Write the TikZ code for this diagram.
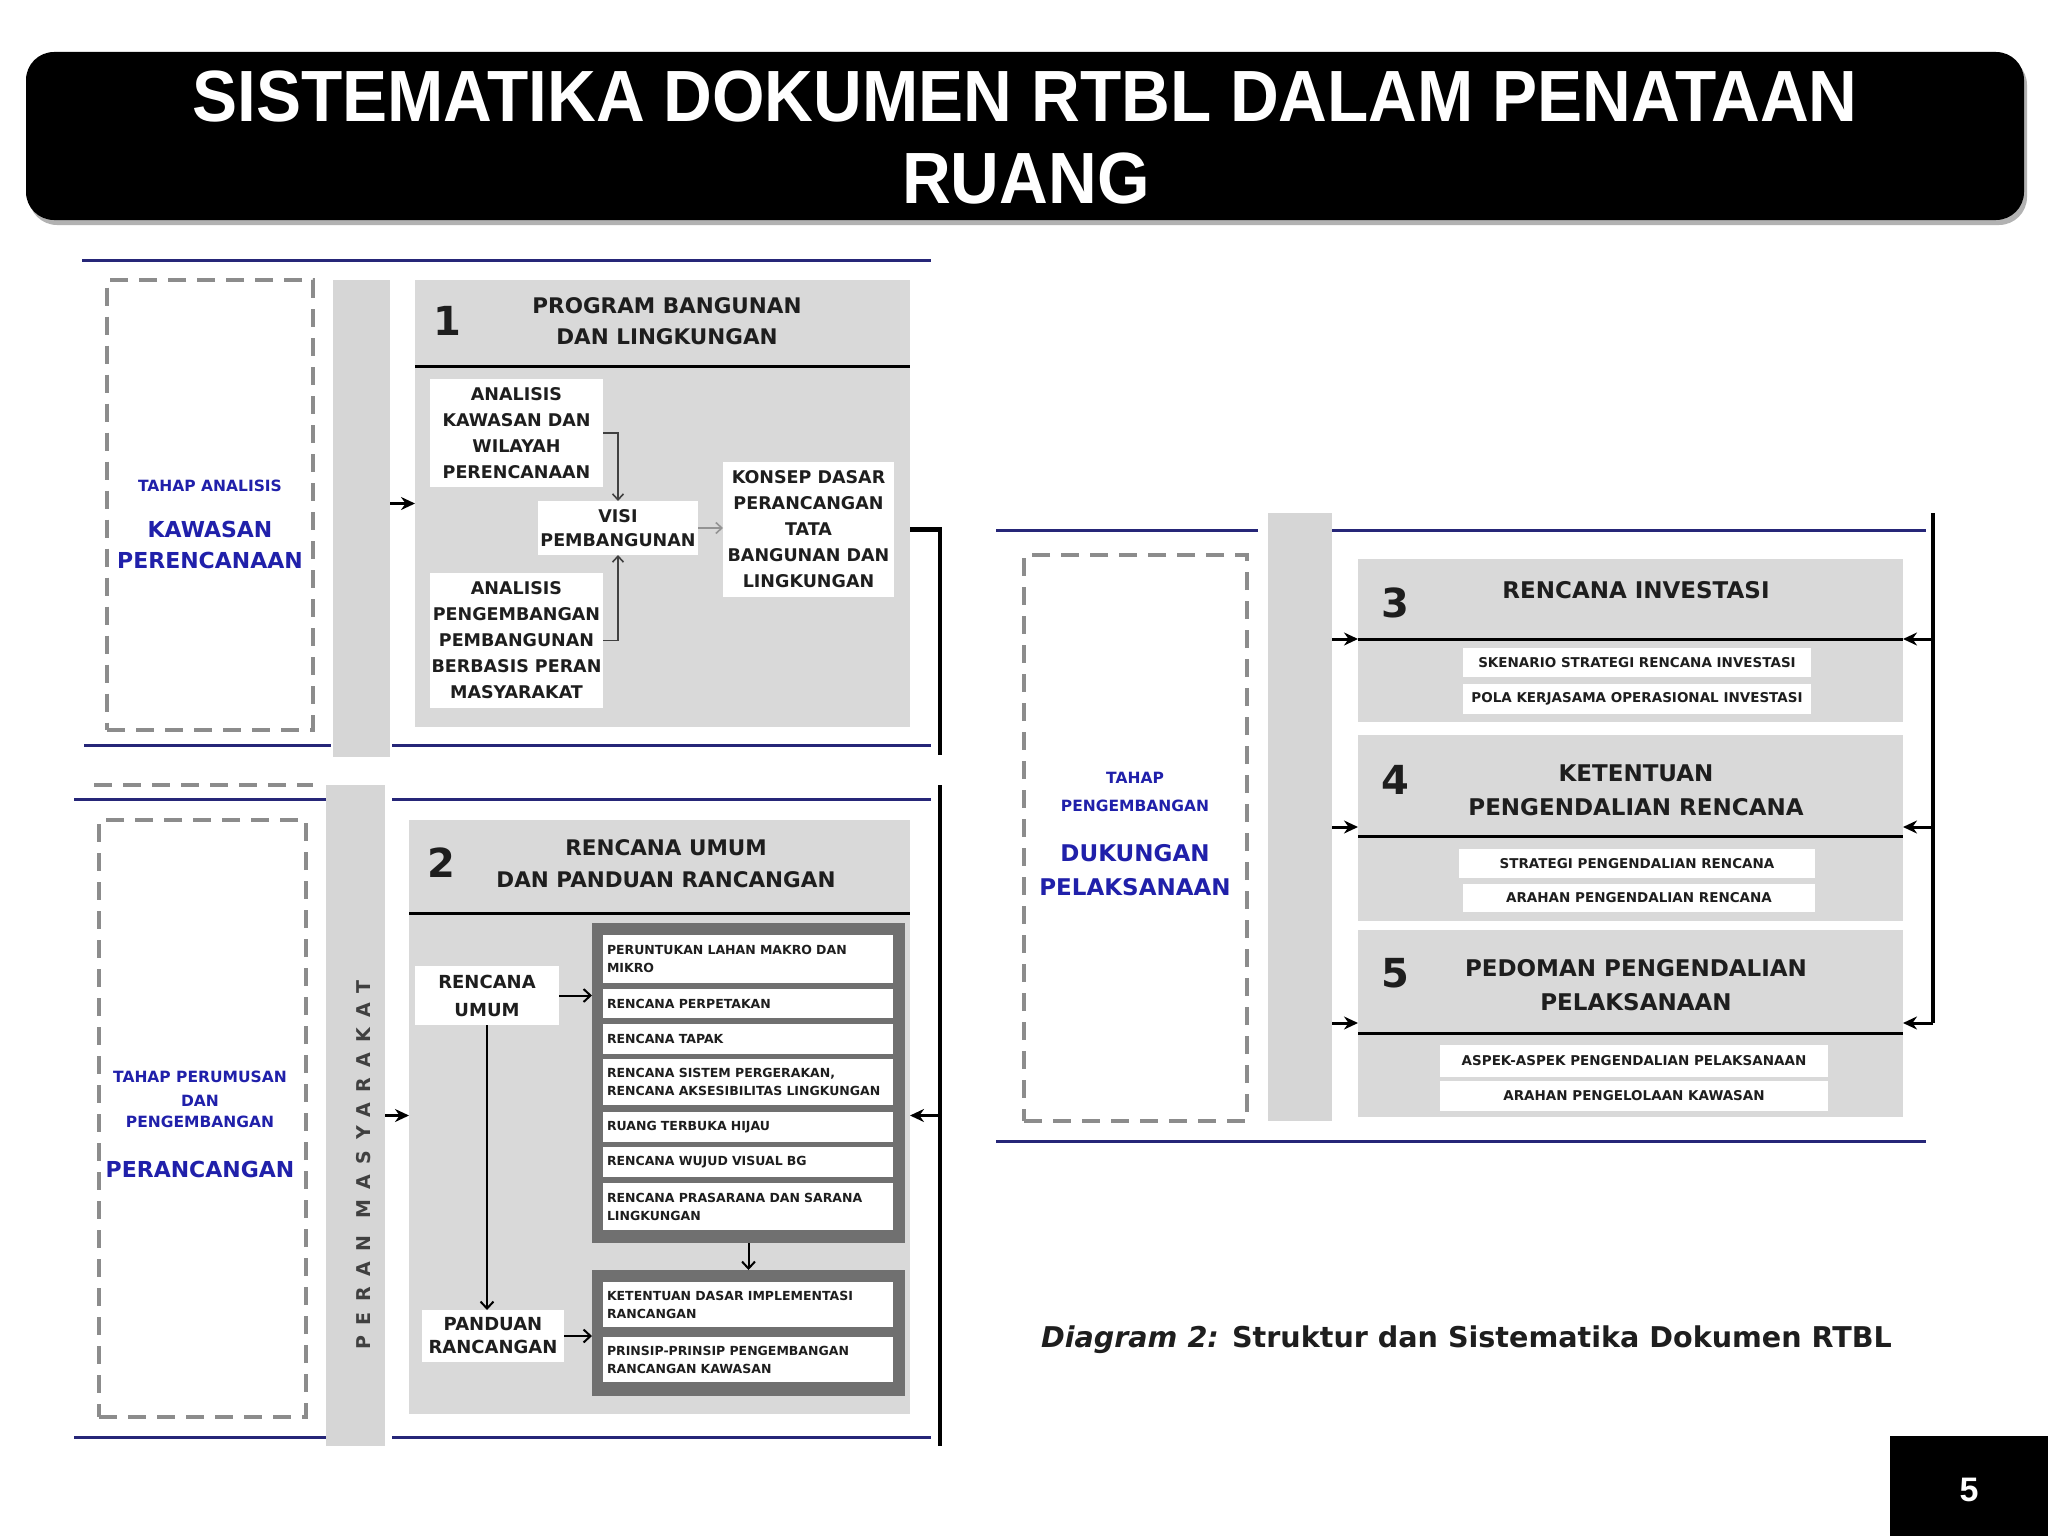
\documentclass[tikz,border=0pt]{standalone}
\usepackage{fontspec}
\setmainfont{DejaVu Sans}
\newfontfamily\djs{DejaVu Sans}
\newfontfamily\libs{Liberation Sans}
\newfontfamily\spcfont{DejaVu Sans}[LetterSpace=55]
\usetikzlibrary{arrows.meta}
\newcommand\fsz[2]{\fontsize{#1}{#2}\selectfont}
\definecolor{boxgray}{RGB}{217,217,217}
\definecolor{bargray}{RGB}{214,214,214}
\definecolor{framegray}{RGB}{112,112,112}
\definecolor{navyline}{RGB}{38,38,120}
\definecolor{bluetxt}{RGB}{32,32,170}
\definecolor{dashgray}{RGB}{140,140,140}
\definecolor{txt}{RGB}{30,30,30}
\tikzset{
  sz/.style 2 args={minimum width=#1, minimum height=#2},
  bluel/.style={draw=navyline, line width=3pt},
  dashbox/.style={draw=dashgray, line width=4pt, dash pattern=on 18pt off 11pt},
  barfill/.style={fill=bargray},
  panelbox/.style={fill=boxgray},
  wtext/.style={fill=white, text=txt, align=center, font=\djs\bfseries\fsz{17.5}{26}},
  hdr/.style={text=txt, align=center, font=\djs\bfseries\fsz{21.5}{31}},
  rhdr/.style={text=txt, align=center, font=\djs\bfseries\fsz{23}{34}},
  num/.style={text=txt, font=\djs\bfseries\fsz{40}{40}},
  item/.style={fill=white, text=txt, align=left, inner xsep=4pt, text width=282pt, font=\djs\bfseries\fsz{12.5}{18}},
  ritem/.style={fill=white, text=txt, align=center, font=\djs\bfseries\fsz{13.5}{18}},
  framebox/.style={fill=framegray},
  bsmall/.style={text=bluetxt, font=\djs\bfseries\fsz{15.5}{20}},
  bbig/.style={text=bluetxt, font=\djs\bfseries\fsz{22}{30}},
  heavy/.style={draw=black, line width=4.5pt},
  hline/.style={draw=black, line width=3pt},
  harrow/.style={draw=black, line width=3pt, -{Stealth[length=14pt,width=13pt]}},
  tarrow/.style={draw=txt!85, line width=1.6pt, -{Straight Barb[length=6pt,width=11pt]}},
  marrow/.style={draw=black, line width=2pt, -{Straight Barb[length=7pt,width=13pt]}},
}
\begin{document}
\begin{tikzpicture}[x=1pt,y=-1pt, every node/.style={inner sep=0pt, outer sep=0pt}]
\useasboundingbox (0,0) rectangle (2048,1536);
\fill[white] (0,0) rectangle (2048,1536);

% ---------- title ----------
\node[fill=black!30, rounded corners=28pt, sz={1998pt}{168pt}] (tshadow) at (1028,141) {};
\node[fill=black, rounded corners=28pt, sz={1998pt}{168pt}] (tbar) at (1025,136) {};
\node[anchor=base, text=white, font=\libs\bfseries\fsz{72.6}{80}] (tl1) at (1025,122) {\scalebox{0.93}[1]{SISTEMATIKA DOKUMEN RTBL DALAM PENATAAN}};
\node[anchor=base, text=white, font=\libs\bfseries\fsz{72.6}{80}] (tl2) at (1026,203) {\scalebox{0.93}[1]{RUANG}};

% ---------- panel 1 ----------
\draw[bluel] (82,260) -- (931,260);
\draw[bluel] (84,745) -- (331,745);
\draw[bluel] (392,745) -- (931,745);
\node[dashbox, sz={206pt}{450pt}] (d1) at (210,504.5) {};
\node[barfill, sz={57pt}{477pt}] (bar1) at (361.5,518.5) {};
\node[panelbox, sz={495pt}{447pt}] (box1) at (662.5,503.5) {};
\draw[hline] (box1.west |- 0,366) -- (box1.east |- 0,366);
\node[num] (n1) at (447,321) {1};
\node[hdr] (h1) at (667,321.5) {PROGRAM BANGUNAN\\DAN LINGKUNGAN};
\node[wtext, sz={173pt}{108pt}] (a1) at (516.5,433) {ANALISIS\\KAWASAN DAN\\WILAYAH\\PERENCANAAN};
\node[wtext, sz={160pt}{54pt}, font=\djs\bfseries\fsz{17.5}{24}] (visi) at (618,528) {VISI\\PEMBANGUNAN};
\node[wtext, sz={173pt}{135pt}] (a2) at (516.5,640.5) {ANALISIS\\PENGEMBANGAN\\PEMBANGUNAN\\BERBASIS PERAN\\MASYARAKAT};
\node[wtext, sz={171pt}{135pt}] (konsep) at (808.5,529.5) {KONSEP DASAR\\PERANCANGAN\\TATA\\BANGUNAN DAN\\LINGKUNGAN};
\draw[tarrow] (a1.east) -| (visi.north);
\draw[tarrow] (a2.east) -| (visi.south);
\draw[tarrow, draw=gray!85] (visi.east) -- (visi.east -| konsep.west);
\draw[harrow] ([yshift=15pt]bar1.east) -- ([yshift=15pt]bar1.east -| box1.west);
\node[bsmall] (t1a) at (210,486) {TAHAP ANALISIS};
\node[bbig] (t1b) at (210,529) {KAWASAN};
\node[bbig] (t1c) at (210,560) {PERENCANAAN};
\coordinate (br1) at (940,755);
\draw[heavy] (konsep.east -| box1.east) -| (br1);

% ---------- panel 2 ----------
\draw[draw=dashgray, line width=4pt, dash pattern=on 18pt off 11pt] (94,785) -- (313,785);
\draw[bluel] (74,799) -- (326,799);
\draw[bluel] (392,799) -- (931,799);
\draw[bluel] (74,1437) -- (326,1437);
\draw[bluel] (392,1437) -- (931,1437);
\node[dashbox, sz={207pt}{597pt}] (d2) at (202.5,1118.5) {};
\node[barfill, sz={59pt}{661pt}] (bar2) at (355.5,1115.5) {};
\node[panelbox, sz={501pt}{594pt}] (box2) at (659.5,1117) {};
\draw[hline] (box2.west |- 0,913) -- (box2.east |- 0,913);
\node[num] (n2) at (441,863) {2};
\node[hdr, font=\djs\bfseries\fsz{21.5}{32}] (h2) at (666,864) {RENCANA UMUM\\DAN PANDUAN RANCANGAN};
\node[wtext, sz={144pt}{59pt}, font=\djs\bfseries\fsz{18}{28}] (ru) at (487,995.5) {RENCANA\\UMUM};
\node[wtext, sz={142pt}{52pt}, font=\djs\bfseries\fsz{18}{23}] (pr) at (493,1336) {PANDUAN\\RANCANGAN};
\node[framebox, sz={313pt}{320pt}] (f1) at (748.5,1083) {};
\node[item, minimum height=48pt] (i1) at (748,959) {PERUNTUKAN LAHAN MAKRO DAN\\MIKRO};
\node[item, minimum height=29pt] (i2) at (748,1003.5) {RENCANA PERPETAKAN};
\node[item, minimum height=30pt] (i3) at (748,1039) {RENCANA TAPAK};
\node[item, minimum height=46pt] (i4) at (748,1082) {RENCANA SISTEM PERGERAKAN,\\RENCANA AKSESIBILITAS LINGKUNGAN};
\node[item, minimum height=30pt] (i5) at (748,1127) {RUANG TERBUKA HIJAU};
\node[item, minimum height=30pt] (i6) at (748,1162) {RENCANA WUJUD VISUAL BG};
\node[item, minimum height=47pt] (i7) at (748,1206.5) {RENCANA PRASARANA DAN SARANA\\LINGKUNGAN};
\node[framebox, sz={313pt}{126pt}] (f2) at (748.5,1333) {};
\node[item, minimum height=45pt] (j1) at (748,1304.5) {KETENTUAN DASAR IMPLEMENTASI\\RANCANGAN};
\node[item, minimum height=45pt] (j2) at (748,1359.5) {PRINSIP-PRINSIP PENGEMBANGAN\\RANCANGAN KAWASAN};
\draw[marrow] (ru.east) -- (ru.east -| f1.west);
\draw[marrow] (pr.east) -- (pr.east -| f2.west);
\draw[marrow] (ru.south) -- (ru.south |- pr.north);
\draw[marrow] (f1.south) -- (f2.north);
\node[rotate=90, text=black!75, font=\spcfont\bfseries\fsz{19}{19}] (peran) at (364,1165) {PERAN MASYARAKAT};
\draw[harrow] (bar2.east) -- (bar2.east -| box2.west);
\coordinate (v2t) at (940,785);
\coordinate (v2b) at (940,1446);
\draw[heavy] (v2t) -- (v2b);
\draw[harrow] (v2t |- bar2.east) -- (box2.east |- bar2.east);
\node[bsmall] (t2a) at (200,1077) {TAHAP PERUMUSAN};
\node[bsmall] (t2b) at (200,1101) {DAN};
\node[bsmall] (t2c) at (200,1122) {PENGEMBANGAN};
\node[bbig] (t2d) at (200,1169) {PERANCANGAN};

% ---------- panel 3 ----------
\draw[bluel] (996,530) -- (1258,530);
\draw[bluel] (1332,530) -- (1926,530);
\draw[bluel] (996,1141) -- (1926,1141);
\node[dashbox, sz={223pt}{566pt}] (d3) at (1135.5,838) {};
\node[barfill, sz={64pt}{608pt}] (bar3) at (1300,817) {};
\node[panelbox, sz={545pt}{163pt}] (box3) at (1630.5,640.5) {};
\node[panelbox, sz={545pt}{186pt}] (box4) at (1630.5,828) {};
\node[panelbox, sz={545pt}{187pt}] (box5) at (1630.5,1023.5) {};
\node[num] (n3) at (1395,603) {3};
\node[num] (n4) at (1395,780) {4};
\node[num] (n5) at (1395,973) {5};
\node[rhdr] (h3) at (1636,590) {RENCANA INVESTASI};
\node[rhdr] (h4) at (1636,790) {KETENTUAN\\PENGENDALIAN RENCANA};
\node[rhdr] (h5) at (1636,985) {PEDOMAN PENGENDALIAN\\PELAKSANAAN};
\draw[hline] (box3.west |- 0,639) -- (box3.east |- 0,639);
\draw[hline] (box4.west |- 0,836) -- (box4.east |- 0,836);
\draw[hline] (box5.west |- 0,1033) -- (box5.east |- 0,1033);
\node[ritem, sz={348pt}{29pt}] (s1) at (1637,662.5) {SKENARIO STRATEGI RENCANA INVESTASI};
\node[ritem, sz={348pt}{30pt}] (s2) at (1637,699) {POLA KERJASAMA OPERASIONAL INVESTASI};
\node[ritem, sz={356pt}{29pt}] (s3) at (1637,863.5) {STRATEGI PENGENDALIAN RENCANA};
\node[ritem, sz={352pt}{28pt}] (s4) at (1639,898) {ARAHAN PENGENDALIAN RENCANA};
\node[ritem, sz={388pt}{32pt}] (s5) at (1634,1061) {ASPEK-ASPEK PENGENDALIAN PELAKSANAAN};
\node[ritem, sz={388pt}{30pt}] (s6) at (1634,1096) {ARAHAN PENGELOLAAN KAWASAN};
\coordinate (rvt) at (1933,513);
\coordinate (rvb) at (1933,1023);
\draw[heavy] (rvt) -- (rvb);
\draw[harrow] (bar3.east |- 0,639) -- (box3.west |- 0,639);
\draw[harrow] (bar3.east |- 0,827) -- (box4.west |- 0,827);
\draw[harrow] (bar3.east |- 0,1023) -- (box5.west |- 0,1023);
\draw[harrow] (rvt |- 0,639) -- (box3.east |- 0,639);
\draw[harrow] (rvt |- 0,827) -- (box4.east |- 0,827);
\draw[harrow] (rvb) -- (box5.east |- rvb);
\node[bsmall] (t3a) at (1135,778) {TAHAP};
\node[bsmall] (t3b) at (1135,806) {PENGEMBANGAN};
\node[bbig, font=\djs\bfseries\fsz{23}{30}] (t3c) at (1135,853) {DUKUNGAN};
\node[bbig, font=\djs\bfseries\fsz{23}{30}] (t3d) at (1135,887) {PELAKSANAAN};

% ---------- caption ----------
\node[anchor=west, text=txt, font=\djs\bfseries\fsz{28.6}{30}] (cap) at (1041,1340) {\textit{Diagram 2:} Struktur dan Sistematika Dokumen RTBL};

% ---------- page number ----------
\node[fill=black, sz={158pt}{100pt}] (pbox) at (1969,1486) {};
\node[text=white, font=\libs\bfseries\fsz{34}{34}] (pnum) at (1969,1490) {5};
\end{tikzpicture}
\end{document}
